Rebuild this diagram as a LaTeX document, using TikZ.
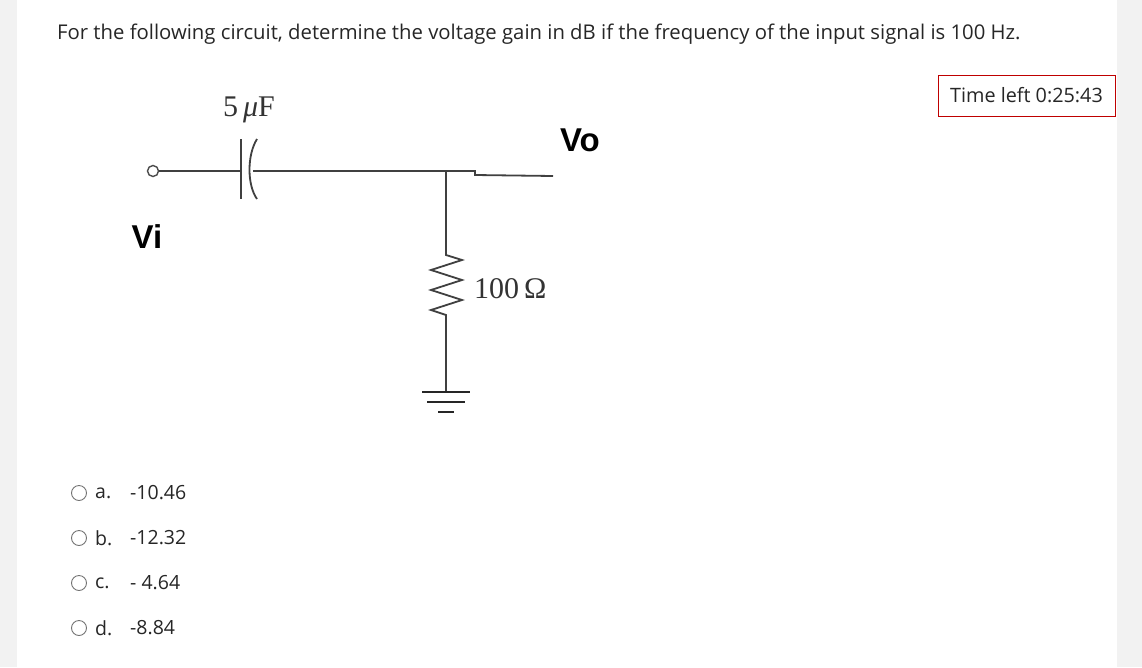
\documentclass[tikz,border=0pt]{standalone}
\usepackage{fontspec}
\setmainfont{Open Sans}
\newfontfamily\serifc{Liberation Serif}
\newfontfamily\bsans{Liberation Sans}
\begin{document}
\begin{tikzpicture}[x=1pt,y=-1pt,
  wire/.style={line width=1.8pt,black!75},
  ans/.style={anchor=west,font=\fontsize{19.5}{22}\selectfont,text=black!85,inner sep=0},
  radio/.style={circle,draw=black!55,line width=0.9pt,minimum size=15pt,inner sep=0}]
\fill[black!5] (0,0) rectangle (1142,667);
\fill[white] (17,0) rectangle (1117,667);
\useasboundingbox (0,0) rectangle (1142,667);
\node[anchor=west,inner sep=0,text=black!85,font=\fontsize{20.3}{24}\selectfont] (q) at (57,34) {For the following circuit, determine the voltage gain in dB if the frequency of the input signal is 100 Hz.};
\node[draw=red!75!black,line width=0.9pt,minimum width=177pt,minimum height=41pt,inner sep=0,font=\fontsize{19.8}{22}\selectfont,text=black!85] (timer) at (1026.5,95.5) {Time left 0:25:43};
% circuit
\node[circle,draw=black!70,line width=1.4pt,minimum size=11pt,inner sep=0] (in) at (153,171) {};
\coordinate (c1) at (241,171);
\coordinate (c2) at (253,171);
\coordinate (j) at (446,171);
\coordinate (out) at (553,176);
\coordinate (r1) at (446,255);
\coordinate (r2) at (446,315);
\coordinate (g) at (446,392);
\draw[wire] (in) -- (c1);
\draw[wire] (241,139) -- (241,199);
\draw[wire] (257,139) .. controls (247,155) and (247,185) .. (257,199);
\draw[wire] (c2) -- (j);
\draw[wire] (j) -- (475,171) -- (475,175) -- (out);
\draw[wire] (j) -- (r1) -- (462,260) -- (431,270) -- (462,280) -- (431,290) -- (462,300) -- (431,310) -- (r2) -- (g);
\draw[line width=2.4pt,black!85] (422,392) -- (470,392) (427,402) -- (465,402) (438,412) -- (454,412);
\node[font=\serifc\fontsize{30}{34}\selectfont,text=black!80] (lc) at (249,110) {5\,\textit{μ}F};
\node[font=\serifc\fontsize{30}{34}\selectfont,text=black!80,anchor=west,inner sep=0] (lr) at (474,289) {100\,Ω};
\node[font=\bsans\bfseries\fontsize{33}{36}\selectfont] (vi) at (147,237) {Vi};
\node[font=\bsans\bfseries\fontsize{33}{36}\selectfont] (vo) at (580,140) {Vo};
% answers
\foreach \y/\l/\v [count=\i] in {493/a./-10.46, 538/b./-12.32, 583/c./- 4.64, 628/d./-8.84}{
  \node[radio] (r\i) at (79,\y) {};
  \node[ans] (l\i) at (95,\y) {\l};
  \node[ans] (v\i) at (130,\y) {\v};
}
\end{tikzpicture}
\end{document}
